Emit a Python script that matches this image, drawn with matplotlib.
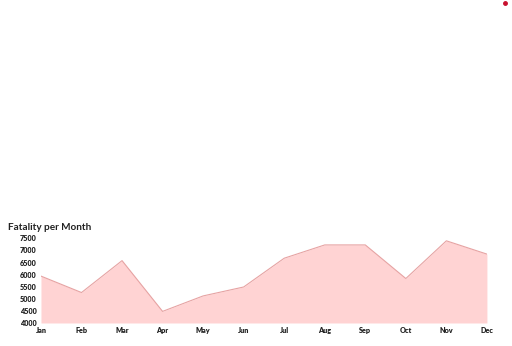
import matplotlib
matplotlib.use("Agg")
import matplotlib.pyplot as plt

months = ["Jan", "Feb", "Mar", "Apr", "May", "Jun",
          "Jul", "Aug", "Sep", "Oct", "Nov", "Dec"]
fatalities = [5940, 5260, 6580, 4480, 5120, 5490,
              6680, 7230, 7230, 5840, 7400, 6850]
y_ticks = [4000, 4500, 5000, 5500, 6000, 6500, 7000, 7500]

plt.rcParams['font.family'] = ['Lato', 'DejaVu Sans']

fig = plt.figure(figsize=(5.12, 3.46), dpi=100)
ax = fig.add_axes([0.080, 0.0665, 0.871, 0.248])

x = list(range(len(months)))
ax.fill_between(x, fatalities, 4000, color="#ffd3d3", linewidth=0)
ax.plot(x, fatalities, color="#e6a3a3", linewidth=0.8)

ax.set_xlim(0, len(months) - 1)
ax.set_ylim(4000, 7550)
ax.set_xticks(x)
ax.set_xticklabels(months, fontsize=5.2, fontweight="heavy", color="#222222")
ax.set_yticks(y_ticks)
ax.set_yticklabels([str(t) for t in y_ticks], fontsize=5.2, fontweight="heavy",
                   color="#222222")
ax.tick_params(length=0, pad=3)
for s in ax.spines.values():
    s.set_visible(False)

fig.text(8 / 512, 1 - 227 / 346, "Fatality per Month", fontsize=7.2,
         fontweight="bold", va="center", ha="left", color="#222222")

# small marker in the top right corner
dot = fig.add_axes([0, 0, 1, 1], facecolor="none")
dot.set_axis_off()
dot.set_xlim(0, 512)
dot.set_ylim(346, 0)
dot.plot([505], [3], "o", color="#c8102e", markersize=2.5)

fig.savefig("out.png", dpi=100)
